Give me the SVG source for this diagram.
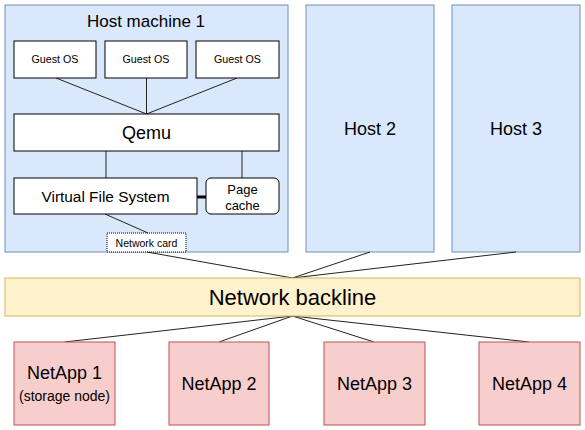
<svg xmlns="http://www.w3.org/2000/svg" width="585" height="430" viewBox="0 0 585 430">
<style>
text{font-family:"Liberation Sans",Arial,sans-serif;fill:#000;text-anchor:middle}
.host{fill:#dae8fc;stroke:#6c8ebf;stroke-width:1}
.box{fill:#fff;stroke:#000;stroke-width:1}
.net{fill:#fff2cc;stroke:#d6b656;stroke-width:1}
.app{fill:#f8cecc;stroke:#b85450;stroke-width:1}
.conn line{stroke:#222;stroke-width:1;fill:none}
</style>
<rect width="585" height="430" fill="#fff"/>
<g id="host1">
<rect class="host" x="5" y="5" width="283" height="247"/>
<text x="146" y="27" font-size="17">Host machine 1</text>
</g>
<g id="host2">
<rect class="host" x="306" y="5" width="128" height="247"/>
<text x="370" y="135" font-size="18">Host 2</text>
</g>
<g id="host3">
<rect class="host" x="452" y="5" width="128" height="247"/>
<text x="516" y="135" font-size="18">Host 3</text>
</g>
<g class="conn" id="connectors">
<line x1="56" y1="78" x2="146.5" y2="114"/>
<line x1="146.5" y1="78" x2="146.5" y2="114"/>
<line x1="237" y1="78" x2="146.5" y2="114"/>
<line x1="106" y1="151" x2="106" y2="178"/>
<line x1="242" y1="151" x2="242" y2="178"/>
<line x1="197" y1="197" x2="206" y2="197" style="stroke-width:3;stroke:#000"/>
<line x1="105" y1="214" x2="148" y2="233"/>
<line x1="147" y1="252" x2="292.5" y2="278"/>
<line x1="370" y1="252" x2="292.5" y2="278"/>
<line x1="516" y1="252" x2="292.5" y2="278"/>
<line x1="292.5" y1="316" x2="64.5" y2="342"/>
<line x1="292.5" y1="316" x2="219" y2="342"/>
<line x1="292.5" y1="316" x2="374" y2="342"/>
<line x1="292.5" y1="316" x2="529" y2="342"/>
</g>
<g id="guest1">
<rect class="box" x="14" y="41" width="82" height="37"/>
<text x="55" y="63" font-size="10.7">Guest OS</text>
</g>
<g id="guest2">
<rect class="box" x="105" y="41" width="82" height="37"/>
<text x="146" y="63" font-size="10.7">Guest OS</text>
</g>
<g id="guest3">
<rect class="box" x="196" y="41" width="83" height="37"/>
<text x="237.5" y="63" font-size="10.7">Guest OS</text>
</g>
<g id="qemu">
<rect class="box" x="14" y="114" width="265" height="37"/>
<text x="146.5" y="138.5" font-size="18">Qemu</text>
</g>
<g id="vfs">
<rect class="box" x="14" y="178" width="183" height="36"/>
<text x="105.5" y="201.5" font-size="15.4">Virtual File System</text>
</g>
<g id="pagecache">
<rect class="box" x="206" y="178" width="73" height="36" rx="5" ry="5"/>
<text x="242.5" y="194" font-size="13">Page</text>
<text x="242.5" y="210" font-size="13">cache</text>
</g>
<g id="networkcard">
<rect x="107" y="233" width="79" height="19" fill="#fff" stroke="#000" stroke-width="1" stroke-dasharray="1 1"/>
<text x="146.5" y="246.5" font-size="10.5">Network card</text>
</g>
<g id="backline">
<rect class="net" x="5" y="278" width="575" height="38"/>
<text x="292.5" y="305" font-size="22">Network backline</text>
</g>
<g id="netapp1">
<rect class="app" x="14" y="342" width="101" height="83"/>
<text x="64.5" y="379" font-size="18">NetApp 1</text>
<text x="64.5" y="401" font-size="14">(storage node)</text>
</g>
<g id="netapp2">
<rect class="app" x="169" y="342" width="100" height="83"/>
<text x="219" y="390" font-size="18">NetApp 2</text>
</g>
<g id="netapp3">
<rect class="app" x="324" y="342" width="101" height="83"/>
<text x="374.5" y="390" font-size="18">NetApp 3</text>
</g>
<g id="netapp4">
<rect class="app" x="479" y="342" width="101" height="83"/>
<text x="529.5" y="390" font-size="18">NetApp 4</text>
</g>
</svg>
